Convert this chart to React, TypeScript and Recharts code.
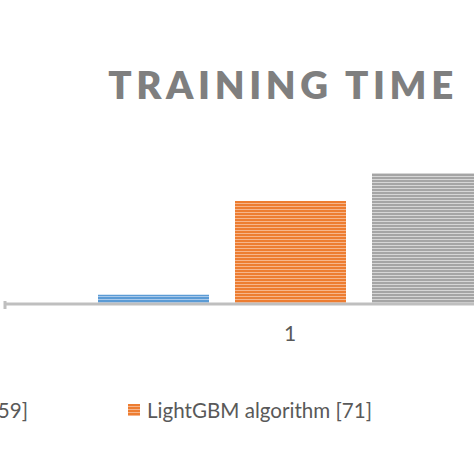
import React from 'react';
import { BarChart, Bar, XAxis, YAxis, Legend } from 'recharts';

const categories = ['1'];
const seriesNames = ['Random Forest algorithm [59]', 'LightGBM algorithm [71]', 'Proposed model'];
const seriesKeys = ['s1', 's2', 's3'];
const seriesValues = [7, 78.6, 100];
const seriesColors = ['#5b9bd5', '#ed7d31', '#a5a5a5'];
const seriesLight = ['#a9c9ea', '#f6b58b', '#d6d6d6'];
const titleText = 'TRAINING TIME';

const data = categories.map((c) => {
  const row: Record<string, any> = { category: c };
  seriesKeys.forEach((k, i) => {
    row[k] = seriesValues[i];
  });
  return row;
});

const FONT = 'Lato, "Open Sans", sans-serif';

const CategoryTick = (props: any) => {
  const { x, y, payload, width, visibleTicksCount } = props;
  const band = width && visibleTicksCount ? width / visibleTicksCount : 0;
  return (
    <g>
      {band > 0 && (
        <line x1={x - band / 2} y1={y - 11} x2={x - band / 2} y2={y - 3} stroke="#bfbfbf" strokeWidth={3} />
      )}
      <text x={x} y={y + 29} textAnchor="middle" fill="#595959" fontSize={21} fontFamily={FONT}>
        {payload.value}
      </text>
    </g>
  );
};

const LegendContent = (props: any) => {
  const items = seriesKeys.map((k, i) => ({ key: k, name: seriesNames[i], idx: i }));
  const renderItem = (it: any) => (
    <div key={it.key} style={{ display: 'flex', alignItems: 'center', flex: 'none', whiteSpace: 'nowrap' }}>
      <svg width={12} height={12} style={{ marginRight: 7 }}>
        <rect x={0} y={0} width={12} height={12} fill={`url(#pat-${it.key})`} />
      </svg>
      <span style={{ color: '#595959', fontSize: 20.6, fontFamily: FONT }}>{it.name}</span>
    </div>
  );
  return (
    <div style={{ display: 'flex', alignItems: 'center' }}>
      <div style={{ width: 58, flex: 'none', display: 'flex', justifyContent: 'flex-end' }}>
        {renderItem(items[0])}
      </div>
      <div style={{ width: 100, flex: 'none' }} />
      {renderItem(items[1])}
      <div style={{ width: 112, flex: 'none' }} />
      {renderItem(items[2])}
    </div>
  );
};

export default function App() {
  return (
    <div style={{ position: 'fixed', left: 0, top: 0, width: 474, height: 474, overflow: 'hidden', background: '#fff' }}>
      <div
        style={{
          position: 'absolute',
          left: 0,
          width: 566,
          top: 64,
          textAlign: 'center',
          fontFamily: FONT,
          fontWeight: 800,
          fontSize: 38.5,
          lineHeight: '40px',
          letterSpacing: 4.6,
          color: '#7f7f7f',
          whiteSpace: 'nowrap',
        }}
      >
        {titleText}
      </div>
      <div style={{ position: 'absolute', left: -30, top: 0 }}>
        <BarChart
          width={640}
          height={474}
          data={data}
          margin={{ top: 173, right: 35, bottom: 130, left: 35 }}
          barGap={26}
          barSize={111}
        >
          <defs>
            {seriesKeys.map((k, i) => (
              <pattern key={k} id={`pat-${k}`} patternUnits="userSpaceOnUse" width={6} height={3}>
                <rect x={0} y={0} width={6} height={3} fill={seriesColors[i]} />
                <rect x={0} y={2} width={6} height={1} fill={seriesLight[i]} />
              </pattern>
            ))}
          </defs>
          <XAxis
            dataKey="category"
            height={40}
            axisLine={{ stroke: '#bfbfbf', strokeWidth: 3 }}
            tickLine={false}
            tick={<CategoryTick />}
            interval={0}
          />
          <YAxis hide domain={[0, 100]} />
          <Legend
            verticalAlign="middle"
            layout="horizontal"
            content={<LegendContent />}
            wrapperStyle={{ top: 398, left: 0, width: 640 }}
          />
          {seriesKeys.map((k, i) => (
            <Bar key={k} dataKey={k} name={seriesNames[i]} fill={`url(#pat-${k})`} isAnimationActive={false} />
          ))}
        </BarChart>
      </div>
    </div>
  );
}
